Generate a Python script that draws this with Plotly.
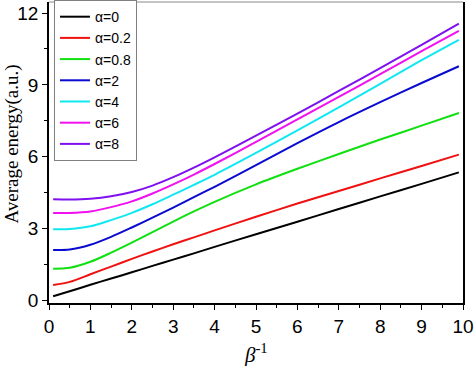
import plotly.graph_objects as go

# beta^-1 sample positions
x_vals = [0.1, 0.5, 1.0, 1.5, 2.0, 2.5, 3.0, 3.5, 4.0, 5.0, 6.0, 7.0, 8.0, 9.0, 9.9]

alpha_labels = ["α=0", "α=0.2", "α=0.8", "α=2", "α=4", "α=6", "α=8"]

e_alpha0 = [0.18, 0.39, 0.66, 0.92, 1.18, 1.45, 1.71, 1.97, 2.24, 2.77, 3.29, 3.82, 4.35, 4.87, 5.35]
e_alpha02 = [0.65, 0.78, 1.10, 1.42, 1.74, 2.05, 2.35, 2.64, 2.93, 3.50, 4.05, 4.57, 5.10, 5.62, 6.09]
e_alpha08 = [1.33, 1.37, 1.62, 2.00, 2.42, 2.86, 3.30, 3.72, 4.12, 4.85, 5.50, 6.12, 6.72, 7.30, 7.83]
e_alpha2 = [2.11, 2.13, 2.33, 2.66, 3.05, 3.46, 3.88, 4.32, 4.75, 5.65, 6.57, 7.45, 8.28, 9.08, 9.78]
e_alpha4 = [2.98, 2.99, 3.10, 3.36, 3.66, 4.02, 4.42, 4.83, 5.25, 6.16, 7.10, 8.06, 9.04, 10.03, 10.88]
e_alpha6 = [3.66, 3.66, 3.72, 3.90, 4.14, 4.47, 4.85, 5.26, 5.70, 6.62, 7.56, 8.50, 9.45, 10.41, 11.26]
e_alpha8 = [4.23, 4.22, 4.25, 4.35, 4.53, 4.80, 5.15, 5.55, 5.98, 6.88, 7.80, 8.75, 9.70, 10.67, 11.56]

series = [e_alpha0, e_alpha02, e_alpha08, e_alpha2, e_alpha4, e_alpha6, e_alpha8]
colors = ["#000000", "#f01010", "#10e010", "#0a0ad0", "#10e8f0", "#f010f0", "#7f10f0"]

y_tickvals = [0, 3, 6, 9, 12]
x_tickvals = list(range(0, 11))

fig = go.Figure()
for i, (lab, ys) in enumerate(zip(alpha_labels, series)):
    fig.add_trace(go.Scatter(
        x=x_vals, y=ys, mode="lines", name=lab,
        line=dict(color=colors[i], width=2, shape="spline", smoothing=0.8),
    ))

axis_font = dict(family="Liberation Sans, Arial, sans-serif", size=19, color="#000")

fig.update_layout(
    width=474, height=366,
    margin=dict(l=49, r=11, t=1, b=63),
    paper_bgcolor="white", plot_bgcolor="white",
    showlegend=True,
    legend=dict(
        x=0.012, y=1.003, xanchor="left", yanchor="top",
        bordercolor="#808080", borderwidth=1, bgcolor="white",
        font=dict(family="Liberation Sans, Arial, sans-serif", size=14, color="#000"),
        tracegroupgap=0,
    ),
    xaxis=dict(
        range=[0, 10], tickvals=x_tickvals, ticktext=[str(v) for v in x_tickvals],
        ticks="outside", ticklen=5, tickwidth=1.2, tickcolor="#000",
        showline=True, linecolor="#000", linewidth=1.5, mirror=False,
        showgrid=False, zeroline=False, tickfont=axis_font, automargin=False,
        minor=dict(dtick=0.5, ticks="outside", ticklen=3, tickcolor="#000", tickwidth=1, showgrid=False),
    ),
    yaxis=dict(
        range=[-0.1, 12.46], tickvals=y_tickvals, ticktext=[str(v) for v in y_tickvals],
        ticks="outside", ticklen=5, tickwidth=1.2, tickcolor="#000",
        showline=True, linecolor="#000", linewidth=1.5, mirror=True,
        showgrid=False, zeroline=False, tickfont=axis_font, automargin=False,
        minor=dict(dtick=1.5, tick0=0, ticks="outside", ticklen=3, tickcolor="#000", tickwidth=1, showgrid=False),
    ),
    shapes=[dict(type="line", xref="paper", yref="paper", x0=0, x1=1, y0=1, y1=1,
                 line=dict(color="#b0b0b0", width=1.5))],
    annotations=[
        dict(text="Average energy(a.u.)", textangle=-90, xref="paper", yref="paper",
             x=0, y=0.5, xanchor="center", yanchor="middle", xshift=-38, yshift=8,
             showarrow=False, font=dict(family="Liberation Serif, Times New Roman, serif", size=19, color="#000")),
        dict(text="<i>β</i><sup>-1</sup>", xref="paper", yref="paper",
             x=0.5, y=0, xanchor="center", yanchor="middle", yshift=-50,
             showarrow=False, font=dict(family="Liberation Serif, Times New Roman, serif", size=21, color="#000")),
    ],
)

fig.write_html(
    "out.html",
    config={"displayModeBar": False},
    post_script="document.body.style.margin='0';document.body.style.padding='0';document.body.style.overflow='hidden';",
)
